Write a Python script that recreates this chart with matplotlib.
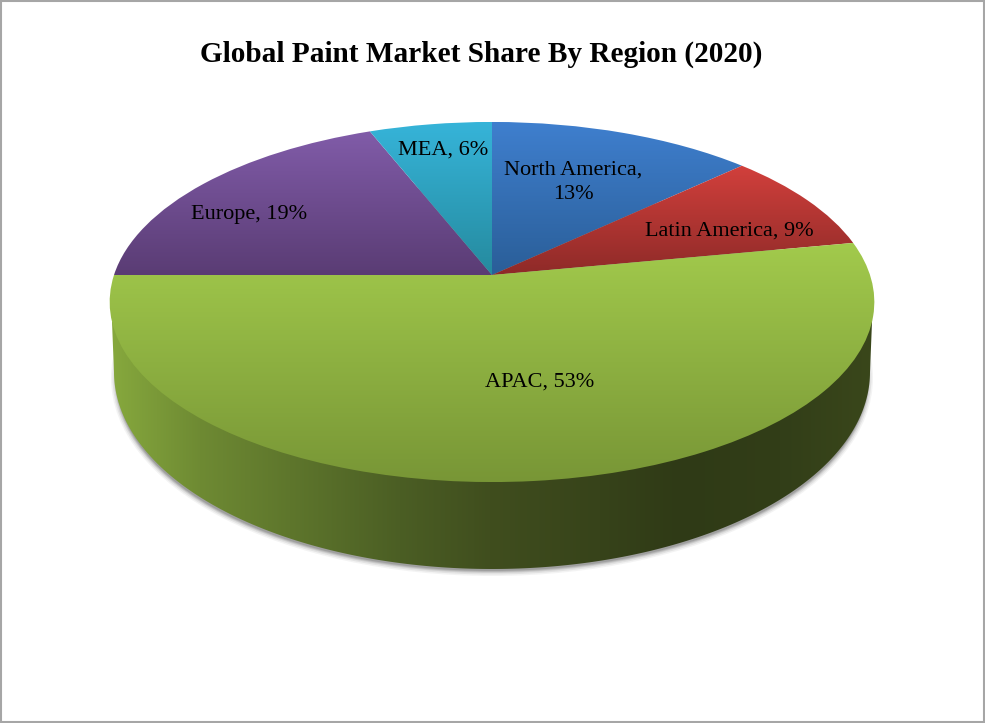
import matplotlib
matplotlib.use("Agg")
import matplotlib.pyplot as plt
import numpy as np
from matplotlib.colors import LinearSegmentedColormap, to_rgb
from matplotlib.patches import Ellipse, Polygon, Rectangle
from matplotlib.transforms import Transform

plt.rcParams['font.family'] = ['Liberation Serif', 'DejaVu Serif']

# -------------------------
# Data
# -------------------------
title = "Global Paint Market Share By Region (2020)"
regions = ["North America", "Latin America", "APAC", "Europe", "MEA"]
shares = [13, 9, 53, 19, 6]

# top and bottom colour of the gradient on each slice, with its pixel rows
top_colors = ["#3F7FCE", "#D2403C", "#A2CA4C", "#815CA9", "#36B4D9"]
bottom_colors = ["#2A5E98", "#8E2A28", "#789636", "#5A3C74", "#258A9E"]
grad_rows = [(122, 275), (165, 275), (243, 482), (130, 275), (122, 275)]

# label centres in pixels
label_texts = ["North America,\n13%", "Latin America, 9%", "APAC, 53%", "Europe, 19%", "MEA, 6%"]
label_pos = [(573, 182), (729, 231), (540, 382), (249, 214), (443, 150)]

side_x = [113, 200, 290, 400, 490, 600, 680, 780, 872]
side_colors = ["#86A83D", "#6E8A33", "#5E762C", "#4B5E24", "#404E1E",
               "#37431A", "#2F3A16", "#323E18", "#3A471B"]


# -------------------------
# Tilted pie: circle -> perspective ellipse, in pixel coordinates
# -------------------------
CX, CY = 492, 275
RX, RY, TILT = 378, 176, 0.15


class TiltTransform(Transform):
    input_dims = 2
    output_dims = 2
    is_separable = False
    has_inverse = False

    def transform_non_affine(self, values):
        u, v = np.asarray(values).T
        w = 1 + TILT * v
        return np.column_stack([CX + RX * u / w, CY - RY * v / w])


def gradient(c1, c2):
    return LinearSegmentedColormap.from_list("g", [c1, c2], N=256)


fig = plt.figure(figsize=(9.85, 7.23), dpi=100)
ax = fig.add_axes([0, 0, 1, 1])

wedges, _ = ax.pie(shares, startangle=90, counterclock=False, radius=1)

# soft shadow under the side wall
for grow, alpha in zip([6, 4.5, 3, 2, 1], [0.06, 0.09, 0.12, 0.16, 0.2]):
    ax.add_patch(Ellipse((492, 378), 2 * (375 + grow), 2 * (192 + grow),
                         fc="#404040", ec="none", alpha=alpha, zorder=0.5))

# side wall, horizontal gradient
t = np.linspace(np.pi, 2 * np.pi, 200)
lower = np.column_stack([492 + 378 * np.cos(t), 372 - 197 * np.sin(t)])
side_poly = Polygon(np.vstack([[[112, 322]], lower, [[872, 322]]]), closed=True,
                    fc="none", ec="none", zorder=1)
ax.add_patch(side_poly)
xs = np.arange(100, 885)
side_rgb = np.array([np.interp(xs, side_x, [to_rgb(c)[i] for c in side_colors]) for i in range(3)])
side_img = ax.imshow(side_rgb.T[np.newaxis, :, :], extent=(100, 885, 580, 310), aspect="auto",
                     interpolation="bilinear", zorder=1)
side_img.set_clip_path(side_poly)

# top face slices, vertical gradient on each
tilt = TiltTransform() + ax.transData
for w, c1, c2, rows in zip(wedges, top_colors, bottom_colors, grad_rows):
    w.set_transform(tilt)
    w.set_facecolor("none")
    w.set_edgecolor("none")
    w.set_zorder(2)
    grad = np.linspace(0, 1, 256)[:, np.newaxis]
    img = ax.imshow(grad, cmap=gradient(c1, c2), extent=(100, 885, rows[1], rows[0]), aspect="auto",
                    interpolation="bilinear", zorder=2)
    img.set_clip_path(w)

for text, (x, y) in zip(label_texts, label_pos):
    ax.text(x, y, text, ha="center", va="center", fontsize=16, color="black",
            linespacing=1.4, zorder=3)

ax.text(481, 54, title, ha="center", va="center", fontsize=21.1, fontweight="bold", color="black")

# chart border
ax.add_patch(Rectangle((1, 1), 983, 721, fc="none", ec="#A6A6A6", lw=1.5, zorder=4))

ax.set_frame_on(False)
ax.set_xlim(0, 985)
ax.set_ylim(723, 0)
ax.set_aspect("auto")
ax.set_xticks([])
ax.set_yticks([])

fig.savefig("out.png", dpi=100)
